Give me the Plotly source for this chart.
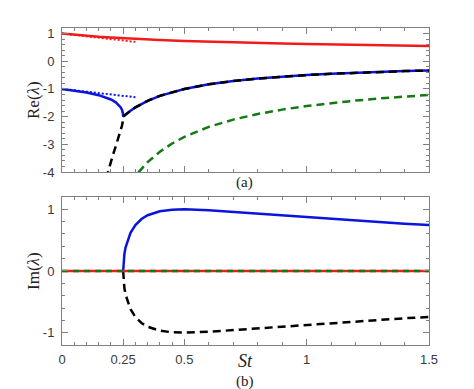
import plotly.graph_objects as go

# ---- data ----
st_red = [0, 0.05, 0.1, 0.15, 0.2, 0.25, 0.3, 0.4, 0.5, 0.6, 0.7, 0.8, 0.9, 1.0, 1.1, 1.2, 1.3, 1.4, 1.5]
re_red = [1.000, 0.954, 0.916, 0.883, 0.854, 0.828, 0.805, 0.766, 0.732, 0.703, 0.678, 0.656, 0.636,
          0.618, 0.602, 0.587, 0.573, 0.560, 0.549]

st_red_dot = [0, 0.3]
re_red_dot = [1.0, 0.70]
st_blue_dot = [0, 0.3]
re_blue_dot = [-1.0, -1.30]

st_blue = [0, 0.02, 0.05, 0.1, 0.15, 0.2, 0.22, 0.23, 0.24, 0.245, 0.248, 0.249, 0.25, 0.255, 0.26,
           0.27, 0.28, 0.3, 0.35, 0.4, 0.45, 0.5, 0.6, 0.7, 0.8, 0.9, 1.0, 1.1, 1.2, 1.3, 1.4, 1.5]
re_blue = [-1.0, -1.021, -1.056, -1.127, -1.225, -1.382, -1.485, -1.559, -1.667, -1.752, -1.836, -1.881,
           -2.0, -1.961, -1.923, -1.852, -1.786, -1.667, -1.429, -1.25, -1.111, -1.0, -0.833, -0.714,
           -0.625, -0.556, -0.5, -0.455, -0.417, -0.385, -0.357, -0.333]

st_black = [0.18, 0.19, 0.2, 0.21, 0.22, 0.23, 0.24, 0.245, 0.248, 0.249, 0.25, 0.255, 0.26, 0.27, 0.28,
            0.3, 0.35, 0.4, 0.45, 0.5, 0.6, 0.7, 0.8, 0.9, 1.0, 1.1, 1.2, 1.3, 1.4, 1.5]
re_black = [-4.248, -3.921, -3.618, -3.333, -3.060, -2.789, -2.5, -2.329, -2.196, -2.135, -2.0, -1.961,
            -1.923, -1.852, -1.786, -1.667, -1.429, -1.25, -1.111, -1.0, -0.833, -0.714, -0.625, -0.556,
            -0.5, -0.455, -0.417, -0.385, -0.357, -0.333]

st_green = [0.28, 0.3, 0.35, 0.4, 0.45, 0.5, 0.6, 0.7, 0.8, 0.9, 1.0, 1.1, 1.2, 1.3, 1.4, 1.5]
re_green = [-4.386, -4.139, -3.642, -3.266, -2.970, -2.732, -2.370, -2.107, -1.906, -1.747, -1.618,
            -1.511, -1.420, -1.342, -1.275, -1.215]

st_im = [0.25, 0.251, 0.253, 0.255, 0.26, 0.27, 0.28, 0.3, 0.325, 0.35, 0.4, 0.45, 0.5, 0.6, 0.7, 0.8,
         0.9, 1.0, 1.1, 1.2, 1.3, 1.4, 1.5]
im_blue = [0, 0.126, 0.216, 0.277, 0.385, 0.524, 0.619, 0.745, 0.843, 0.904, 0.968, 0.994, 1.0, 0.986,
           0.958, 0.927, 0.896, 0.866, 0.838, 0.812, 0.788, 0.766, 0.745]
im_black = [0, -0.126, -0.216, -0.277, -0.385, -0.524, -0.619, -0.745, -0.843, -0.904, -0.968, -0.994,
            -1.0, -0.986, -0.958, -0.927, -0.896, -0.866, -0.838, -0.812, -0.788, -0.766, -0.745]

st_zero = [0, 1.5]
im_zero = [0, 0]

x_major = [0, 0.25, 0.5, 1, 1.5]
x_major_text = ["0", "0.25", "0.5", "1", "1.5"]
x_minor = [0.05, 0.1, 0.15, 0.2, 0.3, 0.35, 0.4, 0.45, 0.6, 0.7, 0.8, 0.9, 1.1, 1.2, 1.3, 1.4]
y1_major = [-4, -3, -2, -1, 0, 1]
y1_text = ["-4", "-3", "-2", "-1", "0", "1"]
y2_major = [-1, 0, 1]
y2_text = ["-1", "0", "1"]

RED = "#ee1c1c"
BLUE = "#0a14dc"
GREEN = "#137a13"
BLACK = "#000000"

fig = go.Figure()

def add(x, y, color, width, dash, ax):
    fig.add_trace(go.Scatter(x=x, y=y, mode="lines", xaxis="x" if ax == 1 else "x2",
                             yaxis="y" if ax == 1 else "y2",
                             line=dict(color=color, width=width, dash=dash), showlegend=False,
                             hoverinfo="skip"))

# panel (a)
add(st_blue_dot, re_blue_dot, BLUE, 2, "2px,2px", 1)
add(st_red_dot, re_red_dot, RED, 2, "2px,2px", 1)
add(st_blue, re_blue, BLUE, 2.5, "solid", 1)
add(st_black, re_black, BLACK, 2.5, "8px,5px", 1)
add(st_red, re_red, RED, 2.5, "solid", 1)
add(st_green, re_green, GREEN, 2.5, "8px,5px", 1)

# panel (b)
add(st_im, im_blue, BLUE, 2.5, "solid", 2)
add(st_im, im_black, BLACK, 2.5, "8px,5px", 2)
add(st_zero, im_zero, RED, 2.5, "solid", 2)
add(st_zero, im_zero, GREEN, 2.5, "6px,5px", 2)

AXC = "#808080"
tickfont = dict(family="Liberation Sans", size=13, color="#3a3a3a")

def xaxis(anchor, labels):
    return dict(range=[0, 1.5], anchor=anchor, tickmode="array", tickvals=x_major,
                ticktext=x_major_text if labels else [""] * len(x_major),
                showticklabels=labels, ticks="inside", ticklen=6, tickcolor=AXC, tickwidth=1,
                minor=dict(tickmode="array", tickvals=x_minor, ticks="inside", ticklen=3,
                           tickcolor=AXC, tickwidth=1),
                showline=True, linecolor=AXC, linewidth=1, mirror="ticks", showgrid=False,
                zeroline=False, tickfont=tickfont, automargin=False, ticklabelstandoff=2)

def yaxis(anchor, rng, vals, text, domain):
    return dict(range=rng, anchor=anchor, domain=domain, tickmode="array", tickvals=vals,
                ticktext=text, ticks="inside", ticklen=6, tickcolor=AXC, tickwidth=1,
                minor=dict(dtick=0.2, tick0=0, ticks="inside", ticklen=3, tickcolor=AXC,
                           tickwidth=1),
                showline=True, linecolor=AXC, linewidth=1, mirror="ticks", showgrid=False,
                zeroline=False, tickfont=tickfont, ticklabelstandoff=4, automargin=False)

# the page body has an 8px margin, so the figure is sized/placed to compensate
fig.update_layout(
    width=466, height=381,
    margin=dict(l=54, r=45, t=20, b=44, autoexpand=False),
    paper_bgcolor="white", plot_bgcolor="white",
    xaxis=xaxis("y", False),
    xaxis2=xaxis("y2", True),
    yaxis=yaxis("x", [-4, 1.2], y1_major, y1_text, [0.5457, 1.0]),
    yaxis2=yaxis("x2", [-1.2, 1.2], y2_major, y2_text, [0.0, 0.4669]),
)

serif = "Liberation Serif"
ann = [
    dict(text="Re(<i>λ</i>)", x=33, y=100, textangle=-90, size=17),
    dict(text="Im(<i>λ</i>)", x=33, y=271, textangle=-90, size=17),
    dict(text="(a)", x=244, y=182, textangle=0, size=15),
    dict(text="(b)", x=245, y=381, textangle=0, size=15),
    dict(text="<i>St</i>", x=245, y=361, textangle=0, size=18),
]
for a in ann:
    fig.add_annotation(text=a["text"], xref="paper", yref="paper",
                       x=(a["x"] - 62) / 367, y=(345 - a["y"]) / 317,
                       xanchor="center", yanchor="middle", showarrow=False,
                       textangle=a["textangle"],
                       font=dict(family=serif, size=a["size"], color="#222222"))

fig.write_html("out.html")
